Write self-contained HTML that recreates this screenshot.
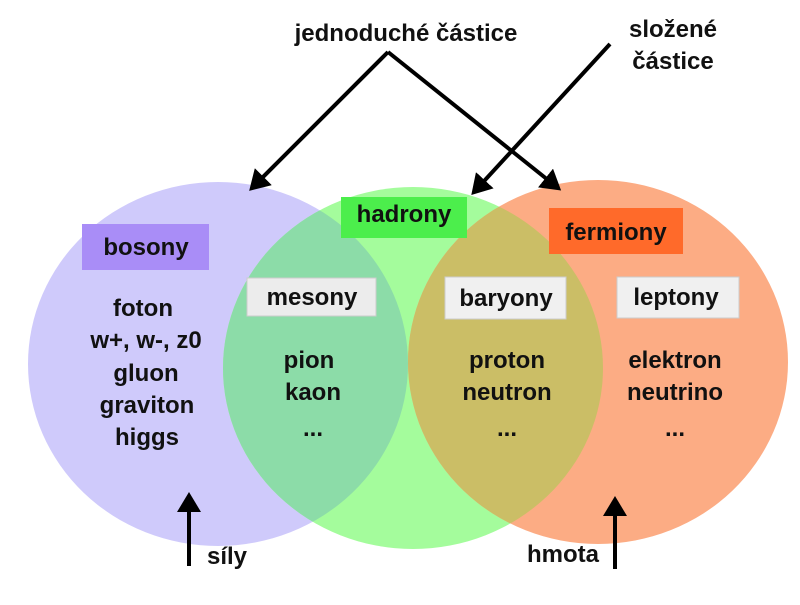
<!DOCTYPE html>
<html><head><meta charset="utf-8"><style>
body{margin:0;background:#fff;}
svg text{font-family:"Liberation Sans",sans-serif;font-weight:bold;font-size:24px;fill:#111;}
</style></head><body>
<svg width="800" height="600" viewBox="0 0 800 600">
<defs>
<clipPath id="cp"><ellipse cx="218" cy="364" rx="190" ry="182"/></clipPath>
<clipPath id="cg"><ellipse cx="413" cy="368" rx="190" ry="181"/></clipPath>
<marker id="ah" markerWidth="6" markerHeight="6" refX="4" refY="3" orient="auto" markerUnits="strokeWidth"><path d="M0,0 L5,3 L0,6 z" fill="#000"/></marker>
</defs>
<ellipse cx="218" cy="364" rx="190" ry="182" fill="#cfcafb"/>
<ellipse cx="413" cy="368" rx="190" ry="181" fill="#a4fc9c"/>
<ellipse cx="413" cy="368" rx="190" ry="181" fill="#8cdca8" clip-path="url(#cp)"/>
<ellipse cx="598" cy="362" rx="190" ry="182" fill="#fcac84"/>
<ellipse cx="598" cy="362" rx="190" ry="182" fill="#cbbe66" clip-path="url(#cg)"/>

<rect x="82" y="224" width="127" height="46" fill="#a98df7"/>
<rect x="341" y="197" width="126" height="41" fill="#4cee4c"/>
<rect x="549" y="208" width="134" height="46" fill="#ff6a2a"/>
<rect x="247" y="278" width="129" height="38" fill="#ececec" stroke="#ccc"/>
<rect x="445" y="277" width="121" height="42" fill="#f0f0f0" stroke="#ccc"/>
<rect x="617" y="277" width="122" height="41" fill="#f0f0f0" stroke="#ccc"/>

<g stroke="#000" stroke-width="4" fill="none">
<path d="M388,52 L252,188" marker-end="url(#ah)"/>
<path d="M388,52 L558,188" marker-end="url(#ah)"/>
<path d="M610,44 L474,192" marker-end="url(#ah)"/>
<path d="M189,566 L189,496" marker-end="url(#ah)"/>
<path d="M615,569 L615,500" marker-end="url(#ah)"/>
</g>

<g text-anchor="middle">
<text x="406" y="41">jednoduché částice</text>
<text x="673" y="37">složené</text>
<text x="673" y="69">částice</text>
<text x="146" y="255">bosony</text>
<text x="404" y="222">hadrony</text>
<text x="616" y="240">fermiony</text>
<text x="312" y="305">mesony</text>
<text x="506" y="306">baryony</text>
<text x="676" y="305">leptony</text>
<text x="143" y="316">foton</text>
<text x="146" y="348">w+, w-, z0</text>
<text x="146" y="381">gluon</text>
<text x="147" y="413">graviton</text>
<text x="147" y="445">higgs</text>
<text x="309" y="368">pion</text>
<text x="313" y="400">kaon</text>
<text x="313" y="436">...</text>
<text x="507" y="368">proton</text>
<text x="507" y="400">neutron</text>
<text x="507" y="436">...</text>
<text x="675" y="368">elektron</text>
<text x="675" y="400">neutrino</text>
<text x="675" y="436">...</text>
<text x="227" y="564">síly</text>
<text x="563" y="562">hmota</text>
</g>
</svg>
</body></html>
